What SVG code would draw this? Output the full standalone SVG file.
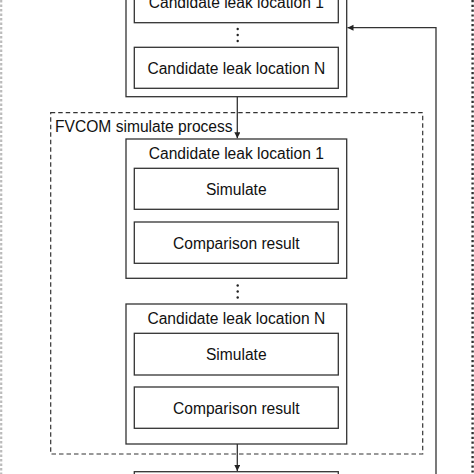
<svg xmlns="http://www.w3.org/2000/svg" width="474" height="474" viewBox="0 0 474 474">
<style>
.box{fill:#fff;stroke:#333;stroke-width:1.3}
.lbl{font-family:"Liberation Sans",Arial,sans-serif;font-size:15.6px;fill:#111;text-anchor:middle}
.lft{text-anchor:start}
.conn{fill:none;stroke:#333;stroke-width:1.3}
.dot{fill:#222}
</style>
<defs>
<marker id="ah" markerWidth="8" markerHeight="8" refX="6" refY="3" orient="auto" markerUnits="userSpaceOnUse">
<path d="M0,0 L6,3 L0,6 Z" fill="#222"/>
</marker>
</defs>
<rect width="474" height="474" fill="#fff"/>
<g id="outer-frame">
<line x1="1.2" y1="0" x2="1.2" y2="474" stroke="#bbb" stroke-width="2.2" stroke-dasharray="2.5,2"/>
<line x1="472.6" y1="0" x2="472.6" y2="474" stroke="#333" stroke-width="2.4" stroke-dasharray="2.2,2.6"/>
</g>
<g id="candidates">
<rect class="box" x="126" y="-30" width="220.7" height="126.7"/>
<rect class="box" x="134.3" y="-18.3" width="204" height="41"/>
<text class="lbl" x="236.3" y="8.2">Candidate leak location 1</text>
<circle class="dot" cx="237.7" cy="29" r="1.2"/>
<circle class="dot" cx="237.7" cy="35" r="1.2"/>
<circle class="dot" cx="237.7" cy="41" r="1.2"/>
<rect class="box" x="134.3" y="47.3" width="204" height="41"/>
<text class="lbl" x="236.3" y="73.6">Candidate leak location N</text>
</g>
<g id="fvcom">
<rect x="50.7" y="112.7" width="372" height="341.3" fill="none" stroke="#333" stroke-width="1.2" stroke-dasharray="4.5,3"/>
<text class="lbl lft" x="55" y="132">FVCOM simulate process</text>
</g>
<g id="loc1">
<rect class="box" x="126" y="139" width="220.7" height="139.3"/>
<text class="lbl" x="236.3" y="159.3">Candidate leak location 1</text>
<rect class="box" x="134.3" y="168.3" width="204" height="41"/>
<text class="lbl" x="236.3" y="194.8">Simulate</text>
<rect class="box" x="134.3" y="222" width="204" height="41.3"/>
<text class="lbl" x="236.3" y="248.6">Comparison result</text>
</g>
<g id="dots-mid">
<circle class="dot" cx="237.7" cy="285.5" r="1.2"/>
<circle class="dot" cx="237.7" cy="291.5" r="1.2"/>
<circle class="dot" cx="237.7" cy="297.5" r="1.2"/>
</g>
<g id="locN">
<rect class="box" x="126" y="304" width="220.7" height="140"/>
<text class="lbl" x="236.3" y="324.3">Candidate leak location N</text>
<rect class="box" x="134.3" y="333.3" width="204" height="41.7"/>
<text class="lbl" x="236.3" y="360">Simulate</text>
<rect class="box" x="134.3" y="387" width="204" height="41.3"/>
<text class="lbl" x="236.3" y="413.6">Comparison result</text>
</g>
<g id="next">
<rect class="box" x="134.3" y="471.7" width="204" height="30"/>
</g>
<g id="connectors">
<line class="conn" x1="237.3" y1="96.7" x2="237.3" y2="138.3" marker-end="url(#ah)"/>
<line class="conn" x1="237.3" y1="444" x2="237.3" y2="471" marker-end="url(#ah)"/>
<polyline class="conn" points="436,480 436,27.7 347.5,27.7" marker-end="url(#ah)"/>
</g>
</svg>
